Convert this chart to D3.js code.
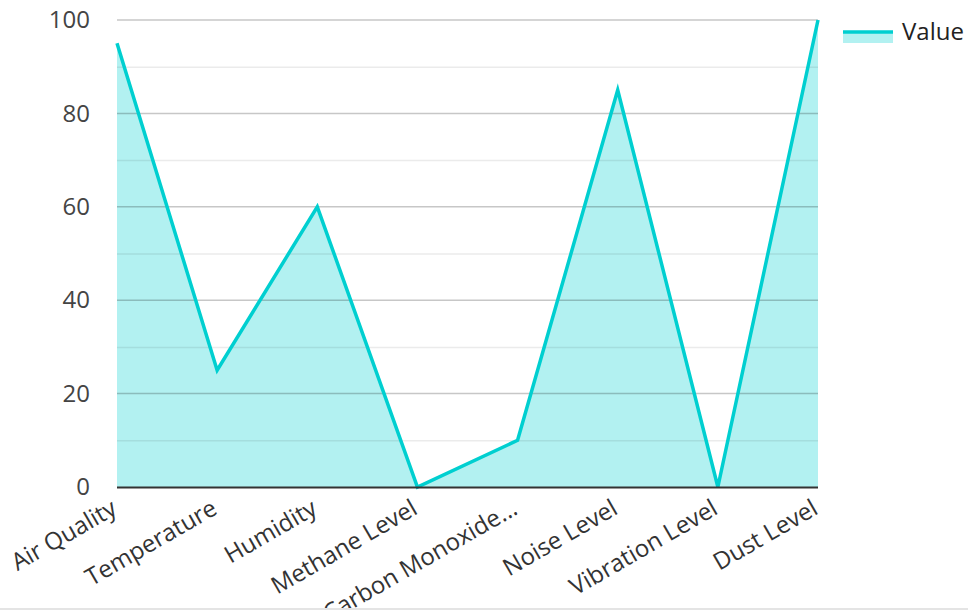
<!DOCTYPE html>
<html>
<head>
<meta charset="utf-8">
<script src="https://cdn.jsdelivr.net/npm/d3@7"></script>
<style>
  html, body { margin: 0; padding: 0; background: #fff; }
  svg { display: block; font-family: "Open Sans", "Noto Sans", sans-serif; }
</style>
</head>
<body>
<svg id="chart" width="968" height="610"></svg>
<script>
const categories = ["Air Quality", "Temperature", "Humidity", "Methane Level", "Carbon Monoxide Level", "Noise Level", "Vibration Level", "Dust Level"];
const values = [95, 25, 60, 0, 10, 85, 0, 100];
const yTicks = [0, 20, 40, 60, 80, 100];
const yMinorTicks = [10, 30, 50, 70, 90];
const seriesName = "Value";

const color = "#00cfd0";
const svg = d3.select("#chart");
const W = 968, H = 610;
const margin = { left: 117, right: 150, top: 20, bottom: 123 };

const x = d3.scalePoint().domain(categories).range([margin.left, W - margin.right]).padding(0);
const y = d3.scaleLinear().domain([0, 100]).range([H - margin.bottom, margin.top]);

const data = categories.map((c, i) => ({ c, v: values[i] }));

// area fill
svg.append("path")
  .datum(data)
  .attr("fill", color)
  .attr("fill-opacity", 0.3)
  .attr("d", d3.area().x(d => x(d.c)).y0(y(0)).y1(d => y(d.v)));

// grid lines
const x0 = margin.left, x1 = W - margin.right;
svg.append("g").selectAll("line").data(yMinorTicks).join("line")
  .attr("x1", x0).attr("x2", x1)
  .attr("y1", d => y(d) + 0.5).attr("y2", d => y(d) + 0.5)
  .attr("stroke", "#000").attr("stroke-opacity", 0.08).attr("stroke-width", 1.5);
svg.append("g").selectAll("line").data(yTicks.filter(t => t !== 0)).join("line")
  .attr("x1", x0).attr("x2", x1)
  .attr("y1", d => y(d)).attr("y2", d => y(d))
  .attr("stroke", "#000").attr("stroke-opacity", 0.22).attr("stroke-width", 1.5);

// line
svg.append("path")
  .datum(data)
  .attr("fill", "none")
  .attr("stroke", color)
  .attr("stroke-width", 3.5)
  .attr("d", d3.line().x(d => x(d.c)).y(d => y(d.v)));

// x axis line
svg.append("line")
  .attr("x1", x0).attr("x2", x1)
  .attr("y1", y(0) + 0.5).attr("y2", y(0) + 0.5)
  .attr("stroke", "#333").attr("stroke-width", 2);

// y axis labels
const yAxis = d3.axisLeft(y).tickValues(yTicks).tickSize(0).tickPadding(0);
const gy = svg.append("g").attr("transform", `translate(${x0 - 27},0)`).call(yAxis);
gy.select(".domain").remove();
gy.selectAll("text").attr("font-size", 24).attr("fill", "#444").attr("font-family", '"Open Sans", sans-serif');

// x axis labels
function trunc(s) { return s.length > 16 ? s.slice(0, 15) + "..." : s; }
const xAxis = d3.axisBottom(x).tickSize(0).tickPadding(0).tickFormat(trunc);
const gx = svg.append("g").attr("transform", `translate(0,${y(0)})`).call(xAxis);
gx.select(".domain").remove();
gx.selectAll("text")
  .attr("font-size", 24).attr("fill", "#333").attr("font-family", '"Open Sans", sans-serif')
  .attr("text-anchor", "end")
  .attr("dy", null).attr("y", 0)
  .attr("transform", "translate(1,26) rotate(-30)");

// legend
const lg = svg.append("g").attr("transform", "translate(843,24)");
lg.append("rect").attr("x", 0).attr("y", 8).attr("width", 50).attr("height", 11)
  .attr("fill", color).attr("fill-opacity", 0.3);
lg.append("line").attr("x1", 0).attr("x2", 50).attr("y1", 8).attr("y2", 8)
  .attr("stroke", color).attr("stroke-width", 3.5);
lg.append("text").attr("x", 59).attr("y", 8).attr("dy", "0.35em")
  .attr("font-size", 24).attr("fill", "#222").text(seriesName);

// bottom border
svg.append("rect").attr("x", 0).attr("y", 608).attr("width", W).attr("height", 2).attr("fill", "#e4e4e4");
</script>
</body>
</html>
